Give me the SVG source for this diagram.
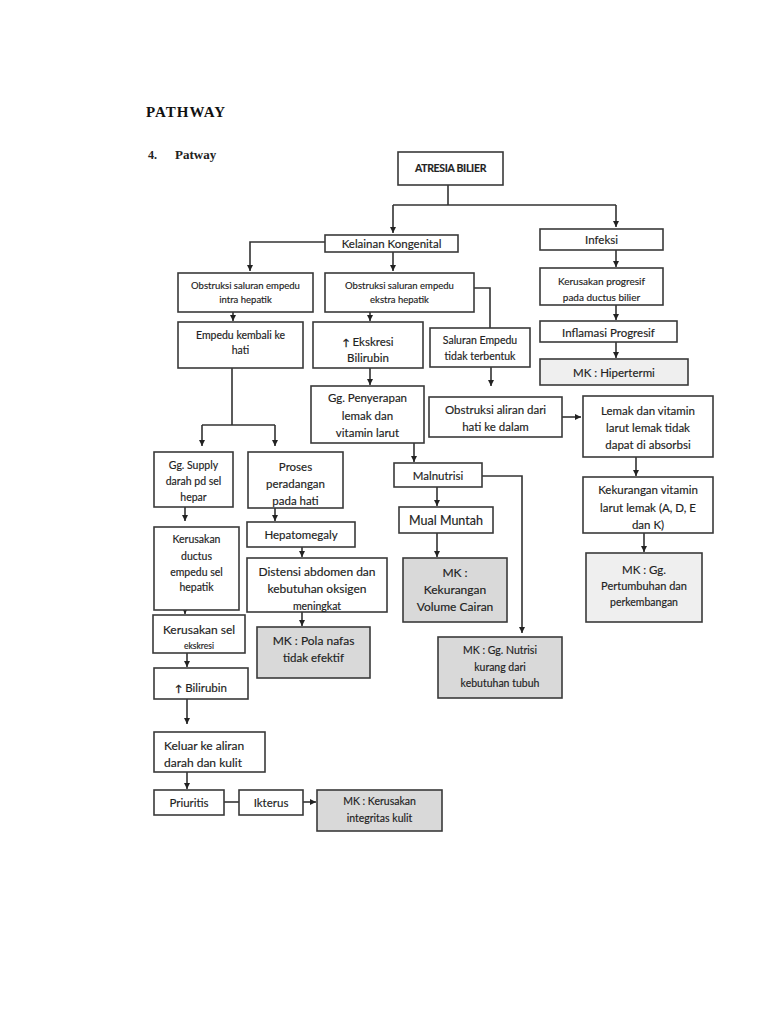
<svg xmlns="http://www.w3.org/2000/svg" width="768" height="1024" viewBox="0 0 768 1024">
<style>
.b{fill:#fff;stroke:#3a3a3a;stroke-width:1.6}
.g{fill:#d9d9d9;stroke:#3a3a3a;stroke-width:1.6}
.l{fill:#efefef;stroke:#3a3a3a;stroke-width:1.6}
.t{font-family:Lato,"Open Sans",sans-serif;fill:#222;text-anchor:middle;stroke:#222;stroke-width:0.15}
.s{text-anchor:start}
.c{fill:none;stroke:#333;stroke-width:1.6}
.a{marker-end:url(#ah)}
</style>
<defs>
<marker id="ah" markerUnits="userSpaceOnUse" markerWidth="8" markerHeight="8" refX="6" refY="3" orient="auto">
<path d="M0,0 L6,3 L0,6 z" fill="#222"/>
</marker>
</defs>
<rect width="768" height="1024" fill="#fff"/>
<text x="146" y="117" font-family="'Liberation Serif',serif" font-weight="bold" font-size="15" letter-spacing="1" fill="#111">PATHWAY</text>
<text x="148" y="159" font-family="'Liberation Serif',serif" font-weight="bold" font-size="12" fill="#222">4.</text>
<text x="175" y="159" font-family="'Liberation Serif',serif" font-weight="bold" font-size="13" fill="#222">Patway</text>

<g id="connectors">
<path class="c" d="M448,185 V205 M393,205 H616"/>
<path class="c a" d="M393,205 V233"/>
<path class="c a" d="M616,205 V227"/>
<path class="c a" d="M325,242 H250 V271"/>
<path class="c a" d="M393,252 V271"/>
<path class="c a" d="M233,312 V321"/>
<path class="c a" d="M370,312 V321"/>
<path class="c" d="M474,288 H490 V328"/>
<path class="c" d="M232,368 V425 M202,425 H275"/>
<path class="c a" d="M202,425 V446"/>
<path class="c a" d="M275,425 V446"/>
<path class="c a" d="M370,368 V385"/>
<path class="c a" d="M491,367 V386"/>
<path class="c a" d="M562,417 H581"/>
<path class="c a" d="M616,250 V267"/>
<path class="c a" d="M616,305 V320"/>
<path class="c a" d="M616,342 V358"/>
<path class="c a" d="M636,457 V476"/>
<path class="c a" d="M644,533 V552"/>
<path class="c a" d="M414,443 V462"/>
<path class="c a" d="M482,476 H522 V633"/>
<path class="c a" d="M437,487 V506"/>
<path class="c a" d="M437,533 V557"/>
<path class="c a" d="M185,507 V521"/>
<path class="c a" d="M275,508 V521"/>
<path class="c a" d="M302,547 V557"/>
<path class="c a" d="M185,610 V614"/>
<path class="c a" d="M302,612 V626"/>
<path class="c a" d="M187,653 V667"/>
<path class="c a" d="M187,699 V724"/>
<path class="c a" d="M187,772 V789"/>
<path class="c" d="M224,802 H239"/>
<path class="c a" d="M303,802 H316"/>
</g>

<g id="atresia"><rect class="b" x="398" y="152" width="105" height="33" stroke-width="2.2"/><text class="t" x="450.5" y="172" font-size="10.5" font-weight="bold" letter-spacing="-0.3">ATRESIA BILIER</text></g>
<g id="kelainan"><rect class="b" x="325" y="235" width="133" height="17"/><text class="t" x="391.5" y="247.5" font-size="11.5">Kelainan Kongenital</text></g>
<g id="infeksi"><rect class="b" x="540" y="229" width="123" height="21"/><text class="t" x="601.5" y="244" font-size="11.5">Infeksi</text></g>
<g id="obs-intra"><rect class="b" x="178" y="273" width="135" height="39"/><text class="t" x="245.5" y="289" font-size="9.5">Obstruksi saluran empedu</text><text class="t" x="245.5" y="302.5" font-size="9.5">intra hepatik</text></g>
<g id="obs-ekstra"><rect class="b" x="325" y="273" width="149" height="39"/><text class="t" x="399.5" y="289" font-size="9.5">Obstruksi saluran empedu</text><text class="t" x="399.5" y="302.5" font-size="9.5">ekstra hepatik</text></g>
<g id="kerusakan-progresif"><rect class="b" x="540" y="268" width="123" height="37"/><text class="t" x="601.5" y="285" font-size="10">Kerusakan progresif</text><text class="t" x="601.5" y="300.5" font-size="10">pada ductus bilier</text></g>
<g id="empedu-kembali"><rect class="b" x="178" y="322" width="125" height="46"/><text class="t" x="240.5" y="338.5" font-size="10.5">Empedu kembali ke</text><text class="t" x="240.5" y="353.5" font-size="10.5">hati</text></g>
<g id="ekskresi"><rect class="b" x="313" y="322" width="110" height="46"/><text class="t" x="368" y="345.5" font-size="11.5"><tspan font-size="9.5" font-weight="bold">↑</tspan> Ekskresi</text><text class="t" x="368" y="362" font-size="11.5">Bilirubin</text></g>
<g id="saluran"><rect class="b" x="430" y="328" width="100" height="39"/><text class="t" x="480" y="343.5" font-size="10.5">Saluran Empedu</text><text class="t" x="480" y="360" font-size="10.5">tidak terbentuk</text></g>
<g id="inflamasi"><rect class="b" x="540" y="321" width="137" height="21"/><text class="t" x="608.5" y="336.5" font-size="11.5">Inflamasi Progresif</text></g>
<g id="mk-hipertermi"><rect class="l" x="540" y="359" width="148" height="26"/><text class="t" x="614" y="377" font-size="11.5">MK : Hipertermi</text></g>
<g id="penyerapan"><rect class="b" x="311" y="386" width="113" height="57"/><text class="t" x="367.5" y="402" font-size="11.5">Gg. Penyerapan</text><text class="t" x="367.5" y="420" font-size="11.5">lemak dan</text><text class="t" x="367.5" y="437" font-size="11.5">vitamin larut</text></g>
<g id="obs-aliran"><rect class="b" x="429" y="397" width="133" height="40"/><text class="t" x="495.5" y="414" font-size="11.5">Obstruksi aliran dari</text><text class="t" x="495.5" y="430.5" font-size="11.5">hati ke dalam</text></g>
<g id="lemak"><rect class="b" x="583" y="396" width="130" height="61"/><text class="t" x="648" y="414.5" font-size="11.5">Lemak dan vitamin</text><text class="t" x="648" y="432" font-size="11.5">larut lemak tidak</text><text class="t" x="648" y="449" font-size="11.5">dapat di absorbsi</text></g>
<g id="gg-supply"><rect class="b" x="154" y="452" width="79" height="55"/><text class="t" x="193.5" y="468.5" font-size="10.5">Gg. Supply</text><text class="t" x="193.5" y="485" font-size="10.5">darah pd sel</text><text class="t" x="193.5" y="501" font-size="10.5">hepar</text></g>
<g id="proses"><rect class="b" x="248" y="452" width="95" height="56"/><text class="t" x="295.5" y="471" font-size="11.5">Proses</text><text class="t" x="295.5" y="488" font-size="11.5">peradangan</text><text class="t" x="295.5" y="504.5" font-size="11.5">pada hati</text></g>
<g id="malnutrisi"><rect class="b" x="394" y="463" width="88" height="24"/><text class="t" x="438" y="480" font-size="11.5">Malnutrisi</text></g>
<g id="kekurangan-vit"><rect class="b" x="583" y="477" width="130" height="56"/><text class="t" x="648" y="494" font-size="11.5">Kekurangan vitamin</text><text class="t" x="648" y="511.5" font-size="11.5">larut lemak (A, D, E</text><text class="t" x="648" y="529" font-size="11.5">dan K)</text></g>
<g id="mual"><rect class="b" x="399" y="507" width="94" height="26"/><text class="t" x="446" y="525" font-size="12.5">Mual Muntah</text></g>
<g id="kerusakan-ductus"><rect class="b" x="154" y="527" width="85" height="83"/><text class="t" x="196.5" y="543" font-size="10.5">Kerusakan</text><text class="t" x="196.5" y="559.5" font-size="10.5">ductus</text><text class="t" x="196.5" y="576" font-size="10.5">empedu sel</text><text class="t" x="196.5" y="591" font-size="10.5">hepatik</text></g>
<g id="hepatomegaly"><rect class="b" x="247" y="522" width="108" height="25"/><text class="t" x="301" y="539" font-size="11.5">Hepatomegaly</text></g>
<g id="distensi"><rect class="b" x="247" y="558" width="140" height="54"/><text class="t" x="317" y="575.5" font-size="12">Distensi abdomen dan</text><text class="t" x="317" y="593" font-size="12">kebutuhan oksigen</text><text class="t" x="317" y="609.5" font-size="10.5">meningkat</text></g>
<g id="mk-kekurangan"><rect class="g" x="403" y="558" width="104" height="64"/><text class="t" x="455" y="576.5" font-size="12">MK :</text><text class="t" x="455" y="594" font-size="12">Kekurangan</text><text class="t" x="455" y="611" font-size="12">Volume Cairan</text></g>
<g id="mk-pertumbuhan"><rect class="l" x="586" y="553" width="116" height="69"/><text class="t" x="644" y="574" font-size="11.5">MK : Gg.</text><text class="t" x="644" y="589.5" font-size="11">Pertumbuhan dan</text><text class="t" x="644" y="605.5" font-size="10.5">perkembangan</text></g>
<g id="kerusakan-sel"><rect class="b" x="153" y="615" width="92" height="38"/><text class="t" x="199" y="633.5" font-size="12">Kerusakan sel</text><text class="t" x="199" y="649" font-size="8.5" fill="#888" stroke="none">ekskresi</text></g>
<g id="mk-pola"><rect class="g" x="257" y="627" width="113" height="51"/><text class="t" x="313.5" y="645" font-size="12">MK : Pola nafas</text><text class="t" x="313.5" y="661.5" font-size="11.5">tidak efektif</text></g>
<g id="mk-nutrisi"><rect class="g" x="438" y="637" width="124" height="61"/><text class="t" x="500" y="654" font-size="10.5">MK : Gg. Nutrisi</text><text class="t" x="500" y="671" font-size="10.5">kurang dari</text><text class="t" x="500" y="687" font-size="10.5">kebutuhan tubuh</text></g>
<g id="bilirubin"><rect class="b" x="154" y="668" width="94" height="31"/><text class="t" x="201" y="692" font-size="11.5"><tspan font-size="9.5" font-weight="bold">↑</tspan> Bilirubin</text></g>
<g id="keluar"><rect class="b" x="154" y="732" width="111" height="40"/><text class="t s" x="164" y="749.5" font-size="12">Keluar ke aliran</text><text class="t s" x="164" y="766.5" font-size="12">darah dan kulit</text></g>
<g id="priuritis"><rect class="b" x="154" y="790" width="70" height="25"/><text class="t" x="189" y="807" font-size="11.5">Priuritis</text></g>
<g id="ikterus"><rect class="b" x="239" y="790" width="64" height="25"/><text class="t" x="271" y="807" font-size="11.5">Ikterus</text></g>
<g id="mk-kerusakan"><rect class="g" x="317" y="790" width="125" height="41"/><text class="t" x="379.5" y="805" font-size="10.5">MK : Kerusakan</text><text class="t" x="379.5" y="822" font-size="10.5">integritas kulit</text></g>
</svg>
